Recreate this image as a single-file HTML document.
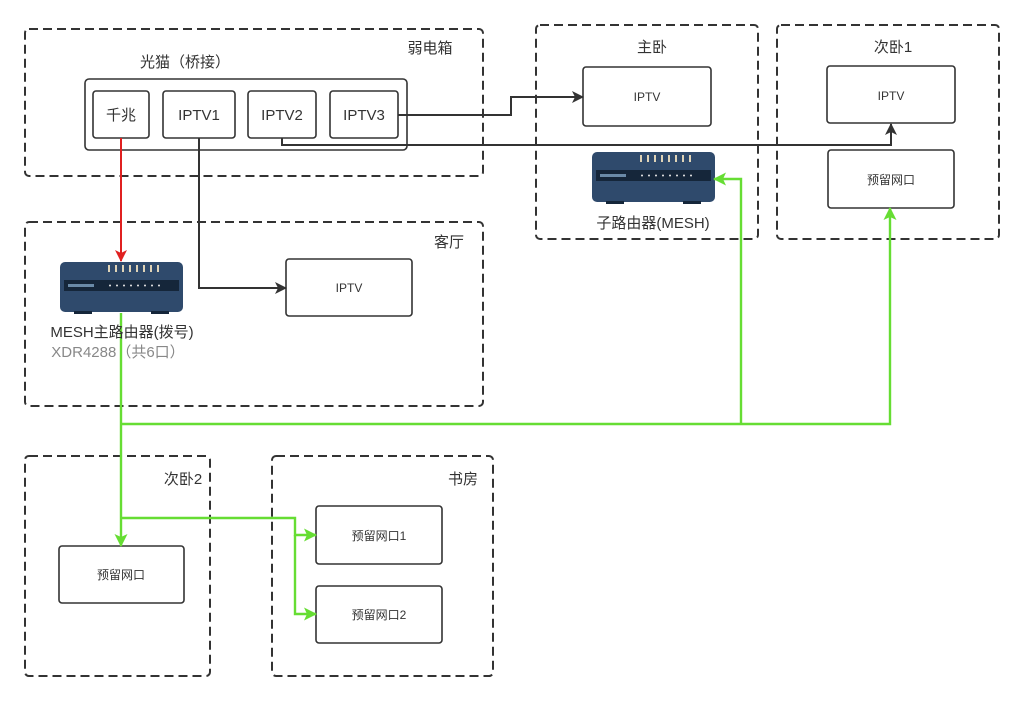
<!DOCTYPE html>
<html><head><meta charset="utf-8"><style>
html,body{margin:0;padding:0;background:#fff;width:1024px;height:702px;overflow:hidden}
text{font-family:"Liberation Sans","Noto Sans CJK SC",sans-serif;fill:#333}
</style></head><body>
<svg width="1024" height="702" viewBox="0 0 1024 702" xmlns="http://www.w3.org/2000/svg">
<defs>
<marker id="ak" markerWidth="12" markerHeight="12" refX="11" refY="6" orient="auto" markerUnits="userSpaceOnUse"><path d="M0,0 L12,6 L0,12 L3,6 z" fill="#333"/></marker>
<marker id="ar" markerWidth="12" markerHeight="12" refX="11" refY="6" orient="auto" markerUnits="userSpaceOnUse"><path d="M0,0 L12,6 L0,12 L3,6 z" fill="#e02020"/></marker>
<marker id="ag" markerWidth="13" markerHeight="13" refX="12" refY="6.5" orient="auto" markerUnits="userSpaceOnUse"><path d="M0,0 L13,6.5 L0,13 L3,6.5 z" fill="#66dd33"/></marker>
<g id="router">
<rect x="0" y="0" width="123" height="50" rx="5" fill="#2f4a6c"/>
<rect x="4" y="18" width="115" height="11" fill="#15263a"/>
<rect x="8" y="22" width="26" height="3" fill="#6a8aa8"/>
<g fill="#e8e8e8"><circle cx="50" cy="23.5" r="1"/><circle cx="57" cy="23.5" r="1"/><circle cx="64" cy="23.5" r="1"/><circle cx="71" cy="23.5" r="1"/><circle cx="78" cy="23.5" r="1"/><circle cx="85" cy="23.5" r="1"/><circle cx="92" cy="23.5" r="1"/><circle cx="99" cy="23.5" r="1"/></g>
<g fill="#e0d4b8"><rect x="48" y="3" width="2" height="7"/><rect x="55" y="3" width="2" height="7"/><rect x="62" y="3" width="2" height="7"/><rect x="69" y="3" width="2" height="7"/><rect x="76" y="3" width="2" height="7"/><rect x="83" y="3" width="2" height="7"/><rect x="90" y="3" width="2" height="7"/><rect x="97" y="3" width="2" height="7"/></g>
<rect x="14" y="49" width="18" height="3" fill="#15263a"/><rect x="91" y="49" width="18" height="3" fill="#15263a"/>
</g>
</defs>
<g fill="none" stroke="#333" stroke-width="2" stroke-dasharray="9,5">
<rect x="25" y="29" width="458" height="147" rx="4"/>
<rect x="25" y="222" width="458" height="184" rx="4"/>
<rect x="536" y="25" width="222" height="214" rx="4"/>
<rect x="777" y="25" width="222" height="214" rx="4"/>
<rect x="25" y="456" width="185" height="220" rx="4"/>
<rect x="272" y="456" width="221" height="220" rx="4"/>
</g>
<g fill="#fff" stroke="#333" stroke-width="1.6">
<rect x="85" y="79" width="322" height="71" rx="4"/>
<rect x="93" y="91" width="56" height="47" rx="3"/>
<rect x="163" y="91" width="72" height="47" rx="3"/>
<rect x="248" y="91" width="68" height="47" rx="3"/>
<rect x="330" y="91" width="68" height="47" rx="3"/>
<rect x="286" y="259" width="126" height="57" rx="3"/>
<rect x="583" y="67" width="128" height="59" rx="3"/>
<rect x="827" y="66" width="128" height="57" rx="3"/>
<rect x="828" y="150" width="126" height="58" rx="3"/>
<rect x="59" y="546" width="125" height="57" rx="3"/>
<rect x="316" y="506" width="126" height="58" rx="3"/>
<rect x="316" y="586" width="126" height="57" rx="3"/>
</g>
<use href="#router" x="60" y="262"/>
<use href="#router" x="592" y="152"/>
<g fill="none" stroke-width="2">
<path d="M121,138 V261" stroke="#e02020" marker-end="url(#ar)"/>
<path d="M199,138 V288 H286" stroke="#333" marker-end="url(#ak)"/>
<path d="M398,115 H511 V97 H583" stroke="#333" marker-end="url(#ak)"/>
<path d="M282,138 V145 H891 V124" stroke="#333" marker-end="url(#ak)"/>
<g stroke="#66dd33" stroke-width="2.4">
<path d="M121,313 V546" marker-end="url(#ag)"/>
<path d="M121,424 H890 V208" marker-end="url(#ag)"/>
<path d="M741,424 V179 H714" marker-end="url(#ag)"/>
<path d="M121,518 H295 V535 H316" marker-end="url(#ag)"/>
<path d="M295,535 V614 H316" marker-end="url(#ag)"/>
</g>
</g>
<g font-size="15">
<text x="430" y="53" text-anchor="middle">弱电箱</text>
<text x="185" y="67" text-anchor="middle">光猫（桥接）</text>
<text x="121" y="120" text-anchor="middle">千兆</text>
<text x="199" y="120" text-anchor="middle">IPTV1</text>
<text x="282" y="120" text-anchor="middle">IPTV2</text>
<text x="364" y="120" text-anchor="middle">IPTV3</text>
<text x="449" y="247" text-anchor="middle">客厅</text>
<text x="122" y="337" text-anchor="middle">MESH主路由器(拨号)</text>
<text x="118" y="357" text-anchor="middle" style="fill:#888">XDR4288（共6口）</text>
<text x="652" y="52" text-anchor="middle">主卧</text>
<text x="653" y="228" text-anchor="middle">子路由器(MESH)</text>
<text x="893" y="52" text-anchor="middle">次卧1</text>
<text x="183" y="484" text-anchor="middle">次卧2</text>
<text x="463" y="484" text-anchor="middle">书房</text>
</g>
<g font-size="12" text-anchor="middle">
<text x="349" y="292">IPTV</text>
<text x="647" y="101">IPTV</text>
<text x="891" y="100">IPTV</text>
<text x="891" y="184">预留网口</text>
<text x="121" y="579">预留网口</text>
<text x="379" y="540">预留网口1</text>
<text x="379" y="619">预留网口2</text>
</g>
</svg>
</body></html>
